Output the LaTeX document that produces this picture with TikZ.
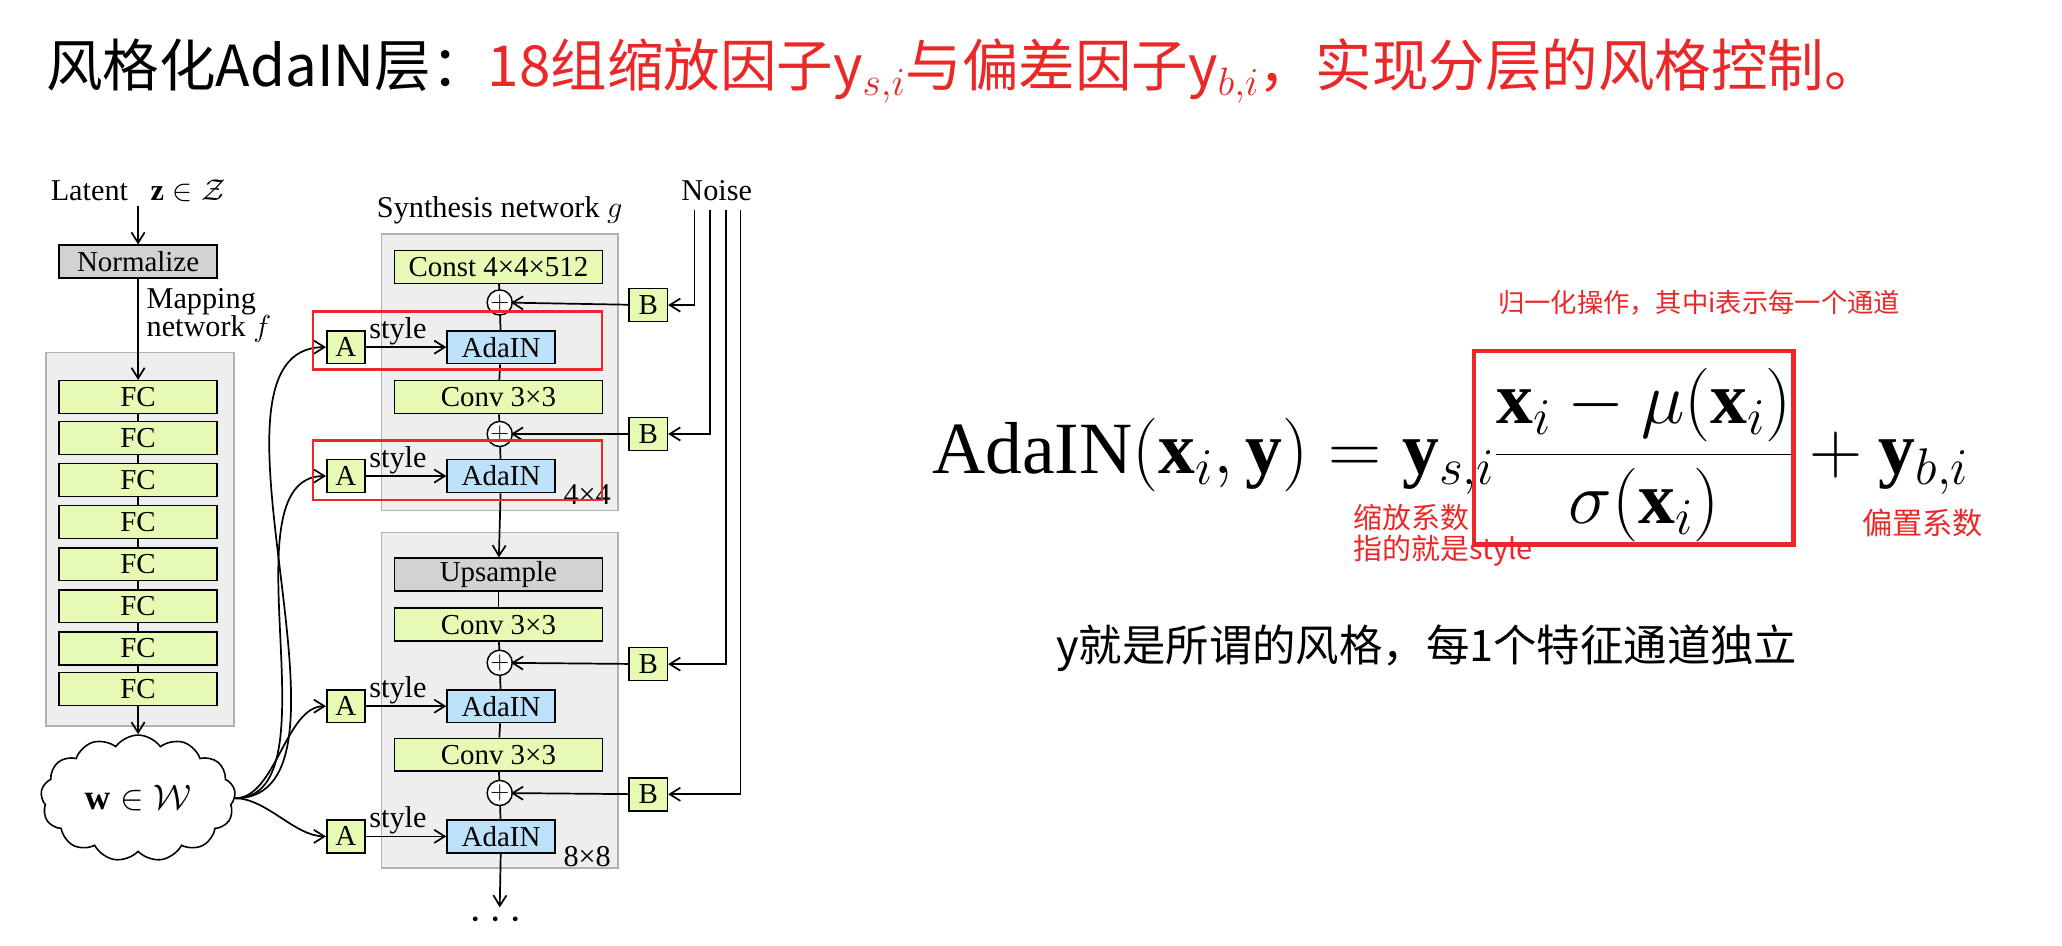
\RequirePackage{fix-cm}
\documentclass[tikz,border=0pt]{standalone}
\usepackage{fontspec}
\usepackage{amsmath}
\setmainfont{Liberation Serif}
\newfontfamily\cjk{Noto Sans CJK SC}
\usetikzlibrary{shapes.symbols,arrows.meta}
\definecolor{fcg}{RGB}{230,250,180}
\definecolor{adab}{RGB}{190,225,250}
\definecolor{panelg}{RGB}{238,238,238}
\definecolor{boxg}{RGB}{210,210,210}
\definecolor{rd}{RGB}{235,40,40}
\tikzset{
 blk/.style={draw,line width=1.2pt,minimum height=25pt,inner sep=0pt,font=\fontsize{22}{22}\selectfont},
 wide/.style={blk,minimum width=158pt},
 fcbox/.style={blk,fill=fcg,minimum width=120pt},
 ada/.style={blk,fill=adab,minimum width=82pt},
 sq/.style={blk,fill=fcg,minimum width=29pt},
 panel/.style={draw=gray!60,fill=panelg,line width=1pt},
 pl/.style={draw,circle,fill=white,line width=1.1pt,minimum size=16pt,inner sep=0pt,font=\fontsize{20}{20}\selectfont},
 ln/.style={line width=1.3pt},
 ar/.style={ln,-{Straight Barb[length=8pt,width=10pt]}},
 lab/.style={font=\fontsize{23}{23}\selectfont},
 redbox/.style={draw=rd,line width=1.8pt},
}
\begin{document}
\begin{tikzpicture}[x=1pt,y=-1pt]
\useasboundingbox (0,0) rectangle (1568,719);
\fill[white] (0,0) rectangle (1568,719);
% title
\node[anchor=base west,inner sep=0pt,font=\cjk\fontsize{43}{43}\selectfont] (title) at (35,66)
 {风格化AdaIN层：\textcolor{rd}{18组缩放因子y$_{s,i}$与偏差因子y$_{b,i}$，实现分层的风格控制。}};
% panels
\draw[panel] (35,268) rectangle (178,552);
\draw[panel] (290,178) rectangle (470,388);
\draw[panel] (290,405) rectangle (470,660);
% mapping
\node[lab] (lat) at (105,145) {Latent\ \ \ $\mathbf{z}\in\mathcal{Z}$};
\node[blk,fill=boxg,minimum width=120pt] (norm) at (105,199) {Normalize};
\node[lab,anchor=west,align=left] (map) at (108,240) {Mapping\\[-2pt]network $f$};
\foreach \i/\y in {1/302,2/333,3/365,4/397,5/429,6/461,7/493,8/524}{
  \node[fcbox] (fc\i) at (105,\y) {FC};}
\foreach \i [evaluate=\i as \j using int(\i+1)] in {1,...,7}{\draw[ln] (fc\i) -- (fc\j);}
\node[cloud,draw,line width=1.2pt,fill=white,cloud puffs=13,cloud puff arc=110,aspect=1.5,minimum width=148pt,minimum height=92pt,font=\fontsize{27}{27}\selectfont] (w) at (105,607) {$\mathbf{w}\in\mathcal{W}$};
\draw[ar] (lat) -- (norm);
\draw[ar] (norm) -- (fc1);
\draw[ar] (fc8) -- (w);
% synthesis
\node[lab] (syn) at (380,160) {Synthesis network $g$};
\node[lab] (noise) at (545,145) {Noise};
\node[wide,fill=fcg] (const) at (379,203) {Const 4×4×512};
\node[pl] (p1) at (380,230) {};
\node[ada] (ad1) at (381,264) {AdaIN};
\node[wide,fill=fcg] (cv1) at (379,302) {Conv 3×3};
\node[pl] (p2) at (380,330) {};
\node[ada] (ad2) at (381,362) {AdaIN};
\node[lab,anchor=east] (s4) at (468,376) {4×4};
\node[wide,fill=boxg] (up) at (379,437) {Upsample};
\node[wide,fill=fcg] (cv2) at (379,475) {Conv 3×3};
\node[pl] (p3) at (380,504) {};
\node[ada] (ad3) at (381,537) {AdaIN};
\node[wide,fill=fcg] (cv3) at (379,574) {Conv 3×3};
\node[pl] (p4) at (380,603) {};
\node[ada] (ad4) at (381,636) {AdaIN};
\node[lab,anchor=east] (s8) at (468,651) {8×8};
\node[font=\fontsize{34}{34}\selectfont] (dots) at (380,700) {$\cdots$};
\coordinate (end) at (380,690);
\foreach \a/\b in {const/p1,p1/ad1,ad1/cv1,cv1/p2,p2/ad2,up/cv2,cv2/p3,p3/ad3,ad3/cv3,cv3/p4,p4/ad4}{\draw[ln] (\a) -- (\b);}
\node[pl] at (p1) {$+$};\node[pl] at (p2) {$+$};\node[pl] at (p3) {$+$};\node[pl] at (p4) {$+$};
\draw[ar] (ad2) -- (up);
\draw[ar] (ad4) -- (end);
% A boxes
\foreach \i/\y in {1/264,2/362,3/537,4/636}{
  \node[sq] (A\i) at (263,\y) {A};
  \draw[ar] (A\i) -- node[lab,above,pos=0.4,inner sep=1pt] (st\i) {style} (ad\i);
  \draw[ar] (w.east) to[out=0,in=180,looseness=0.8] (A\i.west);}
% B boxes and noise
\foreach \i/\y/\x in {1/232/528,2/330/540,3/505/552,4/604/563}{
  \node[sq] (B\i) at (493,\y) {B};
  \coordinate (n\i) at (\x,160);
  \draw[ar] (n\i) |- (B\i.east);
  \draw[ar] (B\i) -- (p\i);}
% red boxes
\draw[redbox] (238,237) rectangle (458,281);
\draw[redbox] (238,335) rectangle (458,380);
% formula
\node[font=\fontsize{56}{56}\selectfont,inner sep=0pt] (eq) at (1103,346)
 {$\mathrm{AdaIN}(\mathbf{x}_i,\mathbf{y})=\mathbf{y}_{s,i}\dfrac{\mathbf{x}_i-\mu(\mathbf{x}_i)}{\sigma(\mathbf{x}_i)}+\mathbf{y}_{b,i}$};
\draw[draw=rd,line width=3.5pt] (1121,267) rectangle (1364,414);
\node[text=rd,font=\cjk\fontsize{20}{20}\selectfont] (n1t) at (1292,230) {归一化操作，其中i表示每一个通道};
\node[text=rd,font=\cjk\fontsize{22}{22}\selectfont,anchor=west,align=left] (n2t) at (1026,407) {缩放系数\\[2pt]指的就是style};
\node[text=rd,font=\cjk\fontsize{23}{23}\selectfont] (n3t) at (1462,398) {偏置系数};
\node[font=\cjk\fontsize{33}{33}\selectfont] (bot) at (1085,493) {y就是所谓的风格，每1个特征通道独立};
\end{tikzpicture}
\end{document}
